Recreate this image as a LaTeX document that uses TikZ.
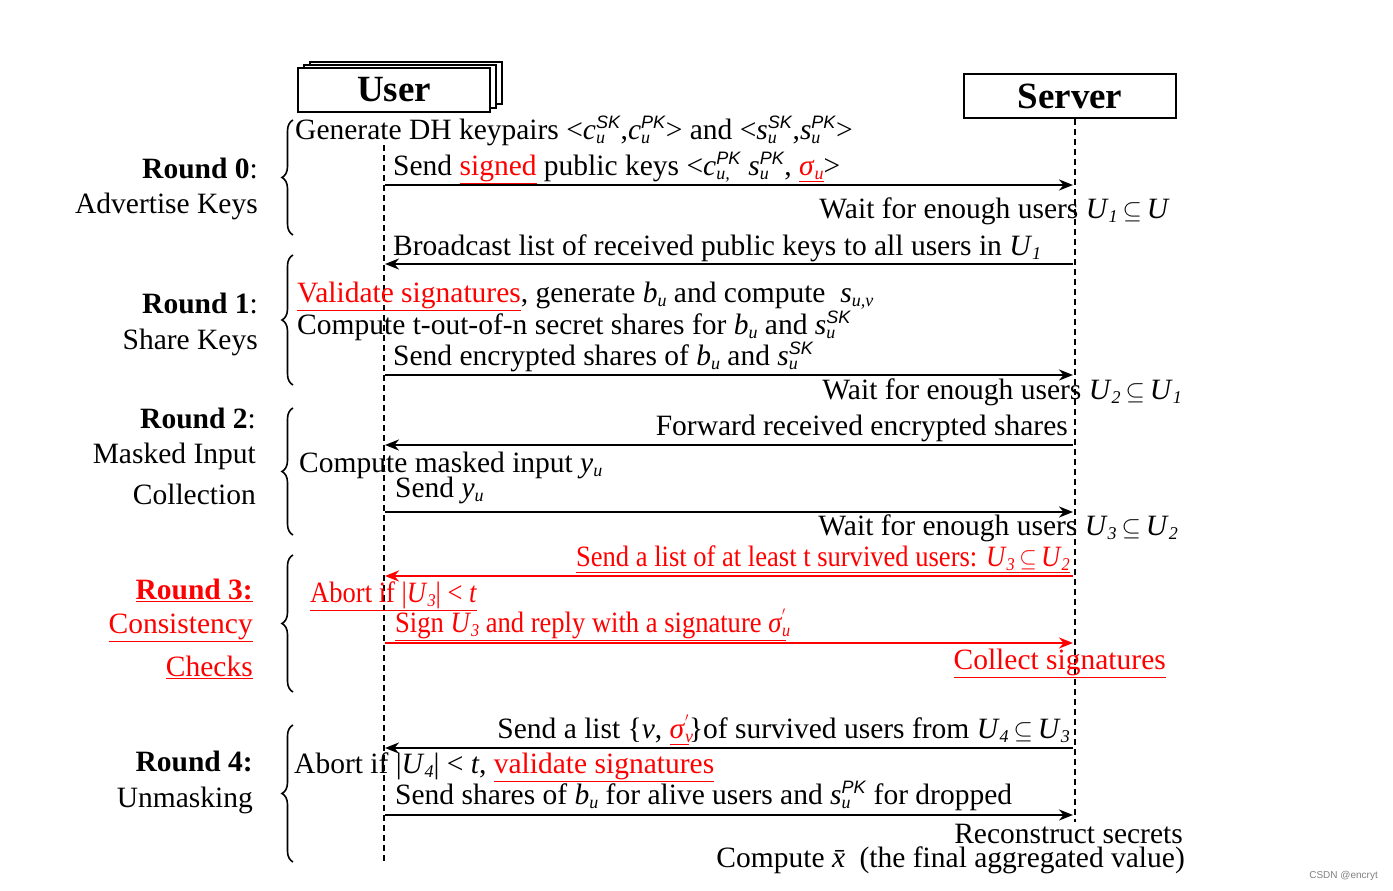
\documentclass[tikz,border=0pt]{standalone}
\usepackage{fontspec}
\setmainfont{Liberation Serif}
\setsansfont{Liberation Sans}
\usetikzlibrary{decorations.pathreplacing,arrows.meta}
\newcommand{\ru}[1]{\textcolor{red}{\underline{#1}}}
\newcommand{\sub}[1]{\raisebox{-0.15em}{\fontsize{18}{18}\selectfont\textit{#1}}}
\newcommand{\supsub}[3]{\textit{#1}\rlap{\raisebox{-0.15em}{\fontsize{18}{18}\selectfont\textit{#2}}}{\raisebox{0.35em}{\fontsize{18}{18}\selectfont\textsf{\textit{#3}}}}}
\newcommand{\U}[1]{\textit{U}\sub{#1}}
\newcommand{\sse}{\,$\subseteq$\,}
\begin{document}
\begin{tikzpicture}[x=1pt,y=-1pt,
  txt/.style={inner sep=0pt,font=\fontsize{29.5}{31}\selectfont},
  lbl/.style={txt,anchor=east,align=right},
  life/.style={dash pattern=on 6pt off 4pt,line width=1.5pt},
  msg/.style={line width=2.8pt,-{Stealth[length=14pt,width=11pt]}},
  br/.style={decorate,decoration={brace,mirror,amplitude=11pt},line width=1.6pt}]
\useasboundingbox (0,0) rectangle (1393,891);
% boxes
\draw[line width=1.5pt,fill=white] (310,62) rectangle (502,104);
\draw[line width=1.5pt,fill=white] (304,65) rectangle (496,108);
\node[draw,line width=1.5pt,fill=white,minimum width=192pt,minimum height=44pt,font=\fontsize{37}{38}\selectfont\bfseries] (user) at (394,90) {User};
\node[draw,line width=1.5pt,minimum width=212pt,minimum height=44pt,font=\fontsize{37}{38}\selectfont\bfseries] (server) at (1070,96) {Server};
\coordinate (ut) at (384,145); \coordinate (ub) at (384,862);
\coordinate (st) at (1075,118); \coordinate (sb) at (1075,822);
\draw[life] (ut) -- (ub);
\draw[life] (server.south -| st) -- (sb);
% arrows
\foreach \y/\c in {185/black,375/black,512/black,643/red,815/black}{
  \coordinate (a\y) at (385,\y); \coordinate (b\y) at (1073,\y);
  \draw[msg,draw=\c] (a\y) -- (b\y);
}
\foreach \y/\c in {264/black,445/black,576/red,748/black}{
  \coordinate (a\y) at (385,\y); \coordinate (b\y) at (1073,\y);
  \draw[msg,draw=\c] (b\y) -- (a\y);
}
% braces
\foreach \t/\b in {120/235,255/385,408/535,555/692,725/862}{
  \coordinate (bt\t) at (293,\t); \coordinate (bb\t) at (293,\b);
  \draw[br] (bt\t) -- (bb\t);
}
% left labels
\node[lbl] (r0) at (258,168) {\textbf{Round 0}:};
\node[lbl] (r0b) at (258,206) {Advertise Keys};
\node[lbl] (r1) at (258,303) {\textbf{Round 1}:};
\node[lbl] (r1b) at (258,342) {Share Keys};
\node[lbl] (r2) at (256,418) {\textbf{Round 2}:};
\node[lbl] (r2b) at (256,456) {Masked Input};
\node[lbl] (r2c) at (256,494) {Collection};
\node[lbl] (r3) at (253,590) {\ru{\textbf{Round 3:}}};
\node[lbl] (r3b) at (253,628) {\ru{Consistency}};
\node[lbl] (r3c) at (253,667) {\ru{Checks}};
\node[lbl] (r4) at (253,761) {\textbf{Round 4:}};
\node[lbl] (r4b) at (253,800) {Unmasking};
% texts
\node[txt,anchor=west] (t1) at (295,131) {Generate DH keypairs <\supsub{c}{u}{SK},\supsub{c}{u}{PK}> and <\supsub{s}{u}{SK},\supsub{s}{u}{PK}>};
\node[txt,anchor=west] (t2) at (393,168) {Send \ru{signed} public keys <\supsub{c}{u,}{PK} \supsub{s}{u}{PK}, \ru{\textit{σ}\sub{u}}>};
\node[txt,anchor=east] (t3) at (1170,211) {Wait for enough users \U{1}\sse\textit{U}};
\node[txt,anchor=west] (t4) at (393,248) {Broadcast list of received public keys to all users in \U{1}};
\node[txt,anchor=west] (t5) at (297,296) {\ru{Validate signatures}, generate \textit{b}\sub{u} and compute \ \textit{s}\sub{u,v}};
\node[txt,anchor=west] (t6) at (297,326) {Compute t-out-of-n secret shares for \textit{b}\sub{u} and \supsub{s}{u}{SK}};
\node[txt,anchor=west] (t7) at (393,357) {Send encrypted shares of \textit{b}\sub{u} and \supsub{s}{u}{SK}};
\node[txt,anchor=east] (t8) at (1182,392) {Wait for enough users \U{2}\sse\U{1}};
\node[txt,anchor=east] (t9) at (1068,428) {Forward received encrypted shares};
\node[txt,anchor=west] (t10) at (299,465) {Compute masked input \textit{y}\sub{u}};
\node[txt,anchor=west] (t11) at (395,490) {Send \textit{y}\sub{u}};
\node[txt,anchor=east] (t12) at (1178,528) {Wait for enough users \U{3}\sse\U{2}};
\node[txt,anchor=east,red] (t13) at (1070,559) {\ru{\scalebox{0.9}[1]{Send a list of at least t survived users: \U{3}\sse\U{2}}}};
\node[txt,anchor=west,red] (t14) at (310,596) {\ru{\scalebox{0.9}[1]{Abort if |\U{3}| < \textit{t}}}};
\node[txt,anchor=west,red] (t15) at (395,625) {\ru{\scalebox{0.9}[1]{Sign \U{3} and reply with a signature \textit{σ}\supsub{}{u}{$'$}}}};
\node[txt,anchor=east,red] (t16) at (1166,663) {\ru{Collect signatures}};
\node[txt,anchor=east] (t17) at (1070,730) {Send a list \{\textit{v}, \ru{\textit{σ}\supsub{}{v}{$'$}}\}of survived users from \U{4}\sse\U{3}};
\node[txt,anchor=west] (t18) at (294,767) {Abort if |\U{4}| < \textit{t}, \ru{validate signatures}};
\node[txt,anchor=west] (t19) at (395,796) {Send shares of \textit{b}\sub{u} for alive users and \supsub{s}{u}{PK} for dropped};
\node[txt,anchor=east] (t20) at (1183,834) {Reconstruct secrets};
\node[txt,anchor=east] (t21) at (1185,860) {Compute \textit{x̄} (the final aggregated value)};
\node[anchor=east,inner sep=0pt,font=\fontsize{10}{10}\sffamily,gray] (wm) at (1378,876) {CSDN @encryt};
\end{tikzpicture}
\end{document}
